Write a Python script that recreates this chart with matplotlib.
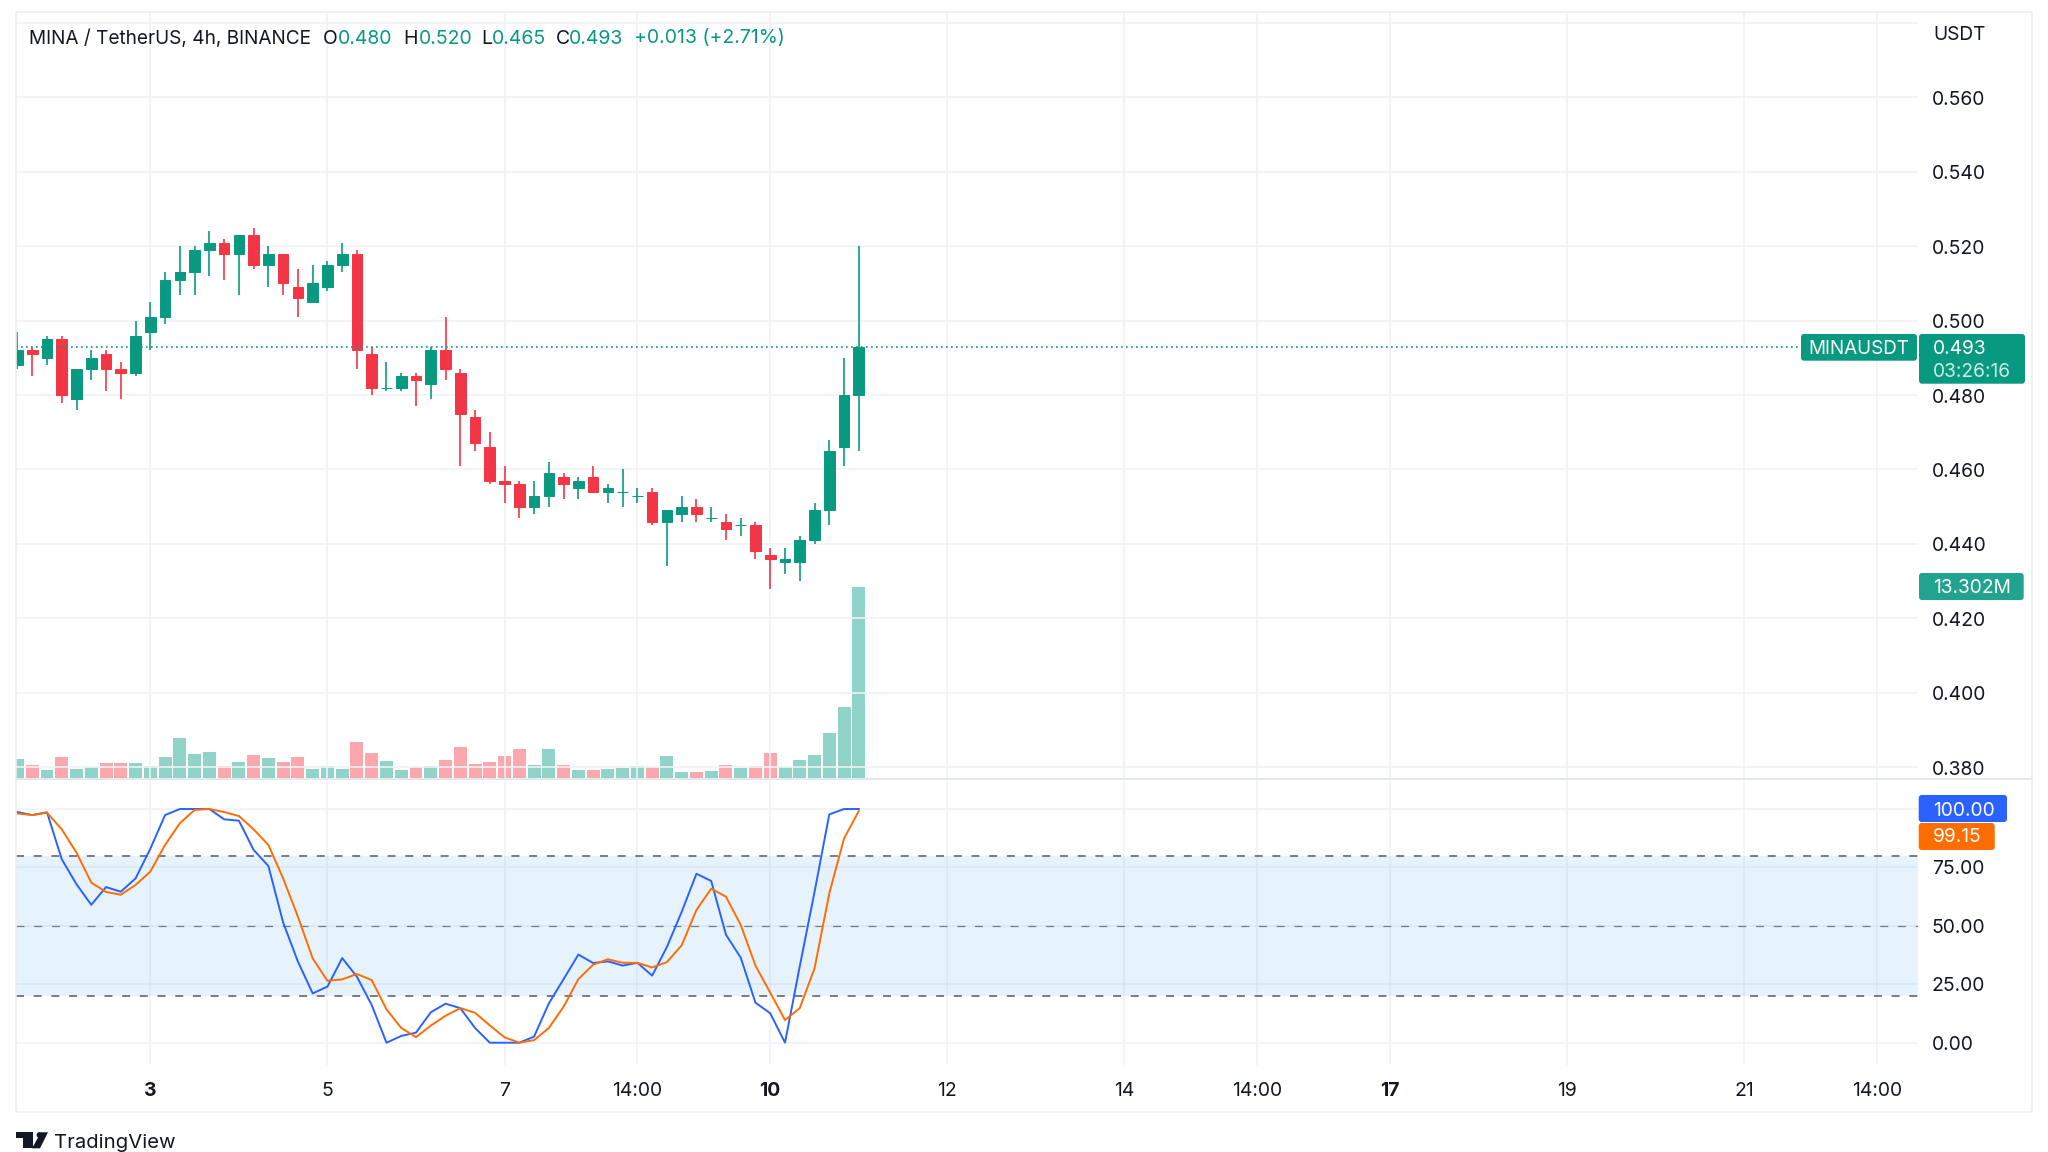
import numpy as np
import matplotlib
matplotlib.use("Agg")
import matplotlib.pyplot as plt
from matplotlib.patches import FancyBboxPatch, Polygon, Circle, Rectangle
from matplotlib.transforms import ScaledTranslation

plt.rcParams['font.family'] = ['Inter', 'DejaVu Sans']

# 4h candles, bar 0 is the one on the "3" day line
opens = [.488, .492, .490, .495, .479, .487, .491, .487, .486,
         .497, .501, .511, .513, .519, .521, .518, .523, .515, .518,
         .509, .505, .509, .515, .518, .491, .482, .482, .485, .483,
         .492, .486, .474, .466, .457, .456, .450, .453, .458, .455,
         .458, .454, .454, .453, .454, .446, .448, .450, .447, .446,
         .445, .445, .437, .435, .435, .441, .449, .466, .480]
closes = [.492, .491, .495, .480, .487, .490, .487, .486, .496,
          .501, .511, .513, .519, .521, .518, .523, .515, .518, .510,
          .506, .510, .515, .518, .492, .482, .482, .485, .484, .492,
          .487, .475, .467, .457, .456, .450, .453, .459, .456, .457,
          .454, .455, .454, .453, .446, .449, .450, .448, .447, .444,
          .445, .438, .436, .436, .441, .449, .465, .480, .493]
highs = [.497, .493, .496, .496, .487, .492, .492, .489, .500,
         .505, .513, .520, .520, .524, .522, .523, .525, .520, .518,
         .514, .515, .516, .521, .519, .493, .489, .486, .486, .493,
         .501, .487, .476, .470, .461, .457, .457, .462, .459, .458,
         .461, .456, .460, .455, .455, .449, .453, .452, .450, .448,
         .447, .446, .439, .439, .442, .451, .468, .490, .520]
lows = [.487, .485, .488, .478, .476, .484, .481, .479, .485,
        .492, .499, .507, .507, .512, .511, .507, .514, .509, .507,
        .501, .505, .508, .513, .487, .480, .481, .481, .477, .479,
        .484, .461, .465, .456, .451, .447, .448, .450, .452, .452,
        .454, .451, .450, .451, .445, .434, .446, .446, .446, .441,
        .442, .436, .428, .432, .430, .440, .445, .461, .465]
volumes = [1.30, .88, .53, 1.46, .60, .74, 1.02, 1.02, 1.02,
           .84, 1.46, 2.76, 1.62, 1.79, .84, 1.07, 1.58, 1.37, 1.11,
           1.46, .60, .79, .60, 2.48, 1.69, 1.18, .53, .74, .79,
           1.23, 2.14, .95, 1.07, 1.51, 1.97, .88, 2.02, .88, .53,
           .53, .60, .67, .84, .74, 1.51, .39, .37, .44, .88,
           .67, .84, 1.74, .74, 1.23, 1.58, 3.09, 4.94, 13.302]
stoch_k = [98.7, 97.4, 98.6, 78.5, 67.8, 59, 66.6, 64.6, 70.3,
           83, 97.4, 100, 100, 100, 95.6, 95, 82.5, 75.6, 51.4,
           34.7, 21.1, 24, 36.2, 28.2, 16.1, 0, 2.9, 4.3, 13,
           16.7, 14.8, 6.3, 0, 0, 0, 2.6, 16.8, 27.2, 37.7,
           34.1, 34.8, 33, 34.2, 28.7, 41, 56, 72.3, 69.2, 46.2,
           36.4, 17.1, 12.6, 0, 32.7, 64.5, 97.7, 100, 100]
stoch_d = [98.1, 97.4, 98.4, 91.3, 81.3, 68.5, 64.5, 63.3, 67.5,
           73.2, 84.6, 93.9, 99.6, 100, 98.7, 97, 91.3, 84.6, 70.3,
           53.9, 36.1, 26.5, 27.1, 29.4, 26.8, 14.3, 6.3, 2.4, 7.3,
           11.5, 14.8, 12.8, 7.4, 2.3, 0, 1.1, 6.3, 15.4, 27.2,
           33.4, 35.7, 34.2, 34.2, 32.2, 34.5, 41.7, 56.8, 65.9, 62.5,
           50.4, 33, 21.4, 9.7, 14.8, 31.8, 63.9, 87.4, 99.15]

first_bar = -9
xtick_bars = [0, 12, 24, 33, 42, 54, 66, 75, 84, 96, 108, 117]
xtick_labels = ['3', '5', '7', '14:00', '10', '12', '14', '14:00', '17', '19', '21', '14:00']
bold_labels = ['3', '10', '17']
price_ticks = [.38, .40, .42, .44, .46, .48, .50, .52, .54, .56, .58]
stoch_ticks = [0, 25, 50, 75, 100]

UP = '#089981'
DOWN = '#F23645'
GRID = '#F1F2F4'
TEXT = '#131722'
BORDER = '#EBEDF0'
W, H = 2048, 1152


def px_axes(fig, x0, y0, x1, y1):
    # axes from pixel box, y measured from the top
    return fig.add_axes([x0 / W, 1 - y1 / H, (x1 - x0) / W, (y1 - y0) / H])


fig = plt.figure(figsize=(20.48, 11.52), dpi=100, facecolor='white')
bars = first_bar + np.arange(len(opens))
is_up = np.array(closes) >= np.array(opens)
xlim = (-9.1, 119.76)

# volume sits behind the price panel on its own scale
ax_vol = px_axes(fig, 16, 12, 1918, 778.7)
ax_vol.bar(bars, volumes, width=0.88,
           color=['#22AB94' if u else '#F7525F' for u in is_up], alpha=0.5, linewidth=0)
ax_vol.set_xlim(xlim)
ax_vol.set_ylim(-0.07, 53.32)
ax_vol.axis('off')

ax = px_axes(fig, 16, 12, 1918, 778.7)
ax.patch.set_visible(False)
ax.set_xlim(xlim)
ax.set_ylim(0.37688, 0.58298)
colors = [UP if u else DOWN for u in is_up]
ax.vlines(bars, lows, highs, colors=colors, linewidth=1.2, zorder=3)
ax.bar(bars, np.abs(np.array(closes) - np.array(opens)),
       bottom=np.minimum(opens, closes), width=0.72,
       color=colors, edgecolor=colors, linewidth=0.7, zorder=4)
ax.hlines(closes[-1], xlim[0], 111.6, colors=UP, linewidth=1.2,
          linestyles=(0, (1, 2)), zorder=5)
ax.set_xticks(xtick_bars)
ax.set_xticklabels([])
ax.set_yticks(price_ticks)
ax.set_yticklabels(['%.3f' % p if p < 0.57 else '' for p in price_ticks])
ax.yaxis.tick_right()
ax.tick_params(axis='both', length=0, labelsize=13.9, labelcolor=TEXT, pad=10)
ax.grid(True, color=GRID, linewidth=1.2, zorder=0)
ax.set_axisbelow(True)
for s in ax.spines.values():
    s.set_visible(False)

# stochastic RSI panel
ax2 = px_axes(fig, 16, 778.7, 1918, 1065)
ax2.set_xlim(xlim)
ax2.set_ylim(-9.54, 112.97)
ax2.axhspan(20, 80, color='#2196F3', alpha=0.11, linewidth=0, zorder=1)
ax2.axhline(80, color='#787B86', linewidth=1.4, linestyle=(0, (4.1, 5)), zorder=2)
ax2.axhline(50, color='#787B86', linewidth=0.9, linestyle=(0, (6.4, 7.8)), zorder=2)
ax2.axhline(20, color='#787B86', linewidth=1.4, linestyle=(0, (4.1, 5)), zorder=2)
ax2.plot(bars, stoch_k, color='#2962FF', linewidth=1.4, zorder=3)
ax2.plot(bars, stoch_d, color='#FF6D00', linewidth=1.4, zorder=4)
ax2.set_xticks(xtick_bars)
ax2.set_xticklabels(xtick_labels)
for lab in ax2.get_xticklabels():
    if lab.get_text() in bold_labels:
        lab.set_fontweight('bold')
ax2.set_yticks(stoch_ticks)
ax2.set_yticklabels(['%.2f' % v if v < 100 else '' for v in stoch_ticks])
ax2.yaxis.tick_right()
ax2.tick_params(axis='y', length=0, labelsize=13.9, labelcolor=TEXT, pad=10)
ax2.tick_params(axis='x', length=0, labelsize=13.9, labelcolor=TEXT, pad=12.5)
ax2.grid(True, color=GRID, linewidth=1.2, zorder=0)
ax2.set_axisbelow(True)
for s in ax2.spines.values():
    s.set_visible(False)

# price labels sit a touch lower than matplotlib centres them
nudge = ScaledTranslation(0, -0.5 / 100, fig.dpi_scale_trans)
for lab in ax.get_yticklabels():
    lab.set_transform(lab.get_transform() + nudge)

# overlay in pixel coordinates for frame, tags, header and logo
ov = fig.add_axes([0, 0, 1, 1], zorder=10)
ov.set_xlim(0, W)
ov.set_ylim(H, 0)
ov.axis('off')
ov.patch.set_visible(False)

ov.add_patch(Rectangle((16, 12), 2031.5 - 16, 1112 - 12, fill=False, edgecolor=BORDER, linewidth=1.2))
ov.plot([16, 2031.5], [778.7, 778.7], color='#E4E7EC', linewidth=1.4)


def tag(x0, y0, x1, y1, color):
    ov.add_patch(FancyBboxPatch((x0 + 2, y0 + 2), x1 - x0 - 4, y1 - y0 - 4,
                                boxstyle='round,pad=2,rounding_size=3',
                                facecolor=color, edgecolor='none', zorder=5))


tag(1801, 334, 1917, 360.7, UP)
tag(1919, 334, 2025, 383.7, UP)
tag(1919, 573, 2023.7, 600, '#22A38F')
tag(1918.7, 795, 2007, 822, '#2962FF')
tag(1918.7, 823, 1994.7, 850, '#FF6D00')

tag_font = dict(fontsize=13.8, va='center', ha='left', zorder=6)
ov.text(1808, 348.5, 'MINAUSDT', color='white', fontsize=13.6, va='center', ha='left', zorder=6)
ov.text(1933, 349, '%.3f' % closes[-1], color='white', **tag_font)
ov.text(1933, 372, '03:26:16', color='#CDEBE6', **tag_font)
ov.text(1933, 588, '13.302M', color='white', **tag_font)
ov.text(1933, 810.5, '%.2f' % stoch_k[-1], color='white', **tag_font)
ov.text(1933, 837.5, '%.2f' % stoch_d[-1], color='white', **tag_font)
ov.text(1933, 35, 'USDT', color=TEXT, fontsize=13.8, va='center', ha='left')

# header line
head = dict(fontsize=14, va='center', ha='left')
ov.text(29, 38.5, 'MINA / TetherUS, 4h, BINANCE', color=TEXT, fontsize=13.7, va='center', ha='left')
for letter, lx, value, vx in [('O', 323, opens[-1], 338), ('H', 403, highs[-1], 419),
                              ('L', 481, lows[-1], 492), ('C', 556, closes[-1], 569)]:
    ov.text(lx, 38.5, letter, color=TEXT, **head)
    ov.text(vx, 38.5, '%.3f' % value, color=UP, **head)
ov.text(634, 38.5, '+0.013 (+2.71%)', color=UP, **head)

# TradingView mark
ov.add_patch(Polygon([(16, 1132.3), (33.3, 1132.3), (33.3, 1148.3), (23.3, 1148.3),
                      (23.3, 1137.8), (16, 1137.8)], closed=True, facecolor=TEXT, edgecolor='none'))
ov.add_patch(Circle((39.5, 1135), 2.9, facecolor=TEXT, edgecolor='none'))
ov.add_patch(Polygon([(41, 1132.3), (48, 1132.3), (40, 1148.3), (32, 1148.3)],
                     closed=True, facecolor=TEXT, edgecolor='none'))
ov.text(54, 1142.5, 'TradingView', color=TEXT, fontsize=14.6, va='center', ha='left')

fig.savefig('out.png', dpi=100, facecolor='white')
